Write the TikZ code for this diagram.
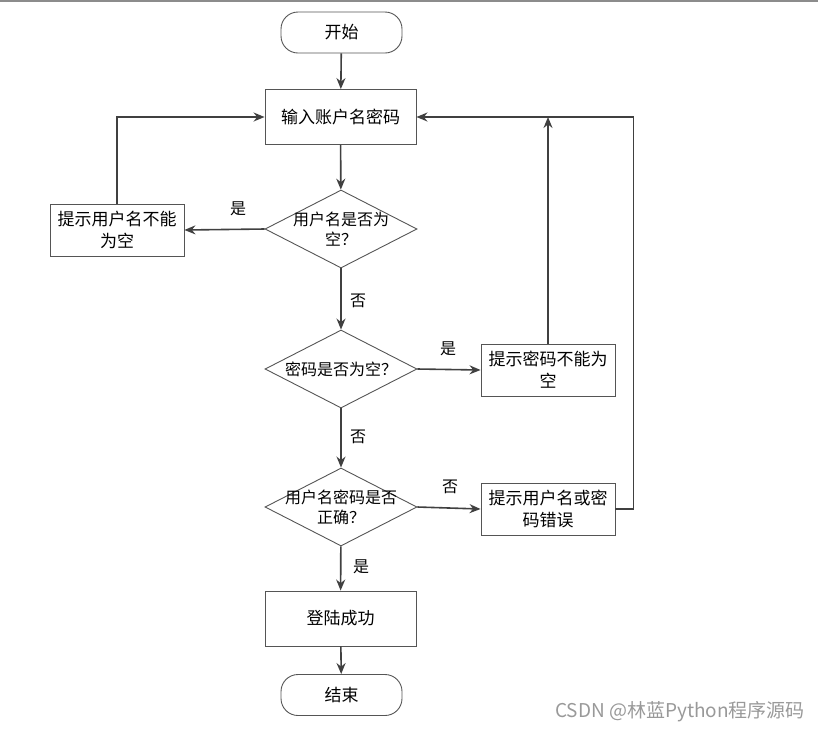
\documentclass[tikz,border=0pt]{standalone}
\usepackage{fontspec}
\setmainfont{Noto Sans CJK SC}
\usetikzlibrary{shapes.geometric,arrows.meta}
\definecolor{ln}{HTML}{404040}
\definecolor{bd}{HTML}{555555}
\tikzset{
  base/.style={draw=bd, line width=0.9pt, font=\fontsize{17}{22}\selectfont, align=center, inner sep=0pt},
  term/.style={base, rectangle, rounded corners=17pt, minimum width=121pt, minimum height=41pt},
  proc/.style={base, rectangle, minimum width=151pt, minimum height=55pt},
  msg/.style={base, rectangle, minimum width=134pt, minimum height=52pt},
  dia/.style={base, diamond, minimum width=152pt, minimum height=78pt},
  arr/.style={draw=ln, line width=1.6pt, -{Stealth[length=11pt,width=9pt]}},
  lab/.style={font=\fontsize{16}{20}\selectfont, inner sep=0pt}
}
\begin{document}
\begin{tikzpicture}[x=1pt,y=-1pt]
\useasboundingbox (0,0) rectangle (818,732);
\draw[color=gray!90, line width=2pt] (0,0.5) -- (818,0.5);
\node[term] (start) at (341.5,32.5) {开始};
\node[proc] (input) at (340.5,117) {输入账户名密码};
\node[dia, label={[lab,align=center]center:用户名是否为\\空？}] (d1) at (341,229) {};
\node[msg] (e1) at (117,230) {提示用户名不能\\为空};
\node[dia, label={[lab,align=center]center:密码是否为空？}] (d2) at (341,369) {};
\node[msg] (e2) at (548,370) {提示密码不能为\\空};
\node[dia, label={[lab,align=center]center:用户名密码是否\\正确？}] (d3) at (341,507) {};
\node[msg] (e3) at (548,509) {提示用户名或密\\码错误};
\node[proc] (ok) at (340.5,618.5) {登陆成功};
\node[term] (end) at (341.5,695) {结束};
\draw[arr] (start) -- (input);
\draw[arr] (input) -- (d1);
\draw[arr] (d1) -- (d2);
\draw[arr] (d2) -- (d3);
\draw[arr] (d3) -- (ok);
\draw[arr] (ok) -- (end);
\draw[arr] (d1.west) -- (e1.east);
\draw[arr] (e1.north) |- (input.west);
\draw[arr] (d2.east) -- (e2.west);
\coordinate (top2) at (e2.north |- input.east);
\draw[arr] (e2.north) -- (top2);
\draw[arr] (d3.east) -- (e3.west);
\draw[arr] (e3.east) -- ++(18,0) |- (input.east);
\node[lab] (l1) at (238,209) {是};
\node[lab] (l2) at (358,301) {否};
\node[lab] (l3) at (448,349) {是};
\node[lab] (l4) at (358,437) {否};
\node[lab] (l5) at (450,487) {否};
\node[lab] (l6) at (361,567) {是};
\node[font=\fontsize{19}{22}\selectfont, text=gray!80, inner sep=0pt] (wm) at (680,712) {CSDN @林蓝Python程序源码};
\end{tikzpicture}
\end{document}
